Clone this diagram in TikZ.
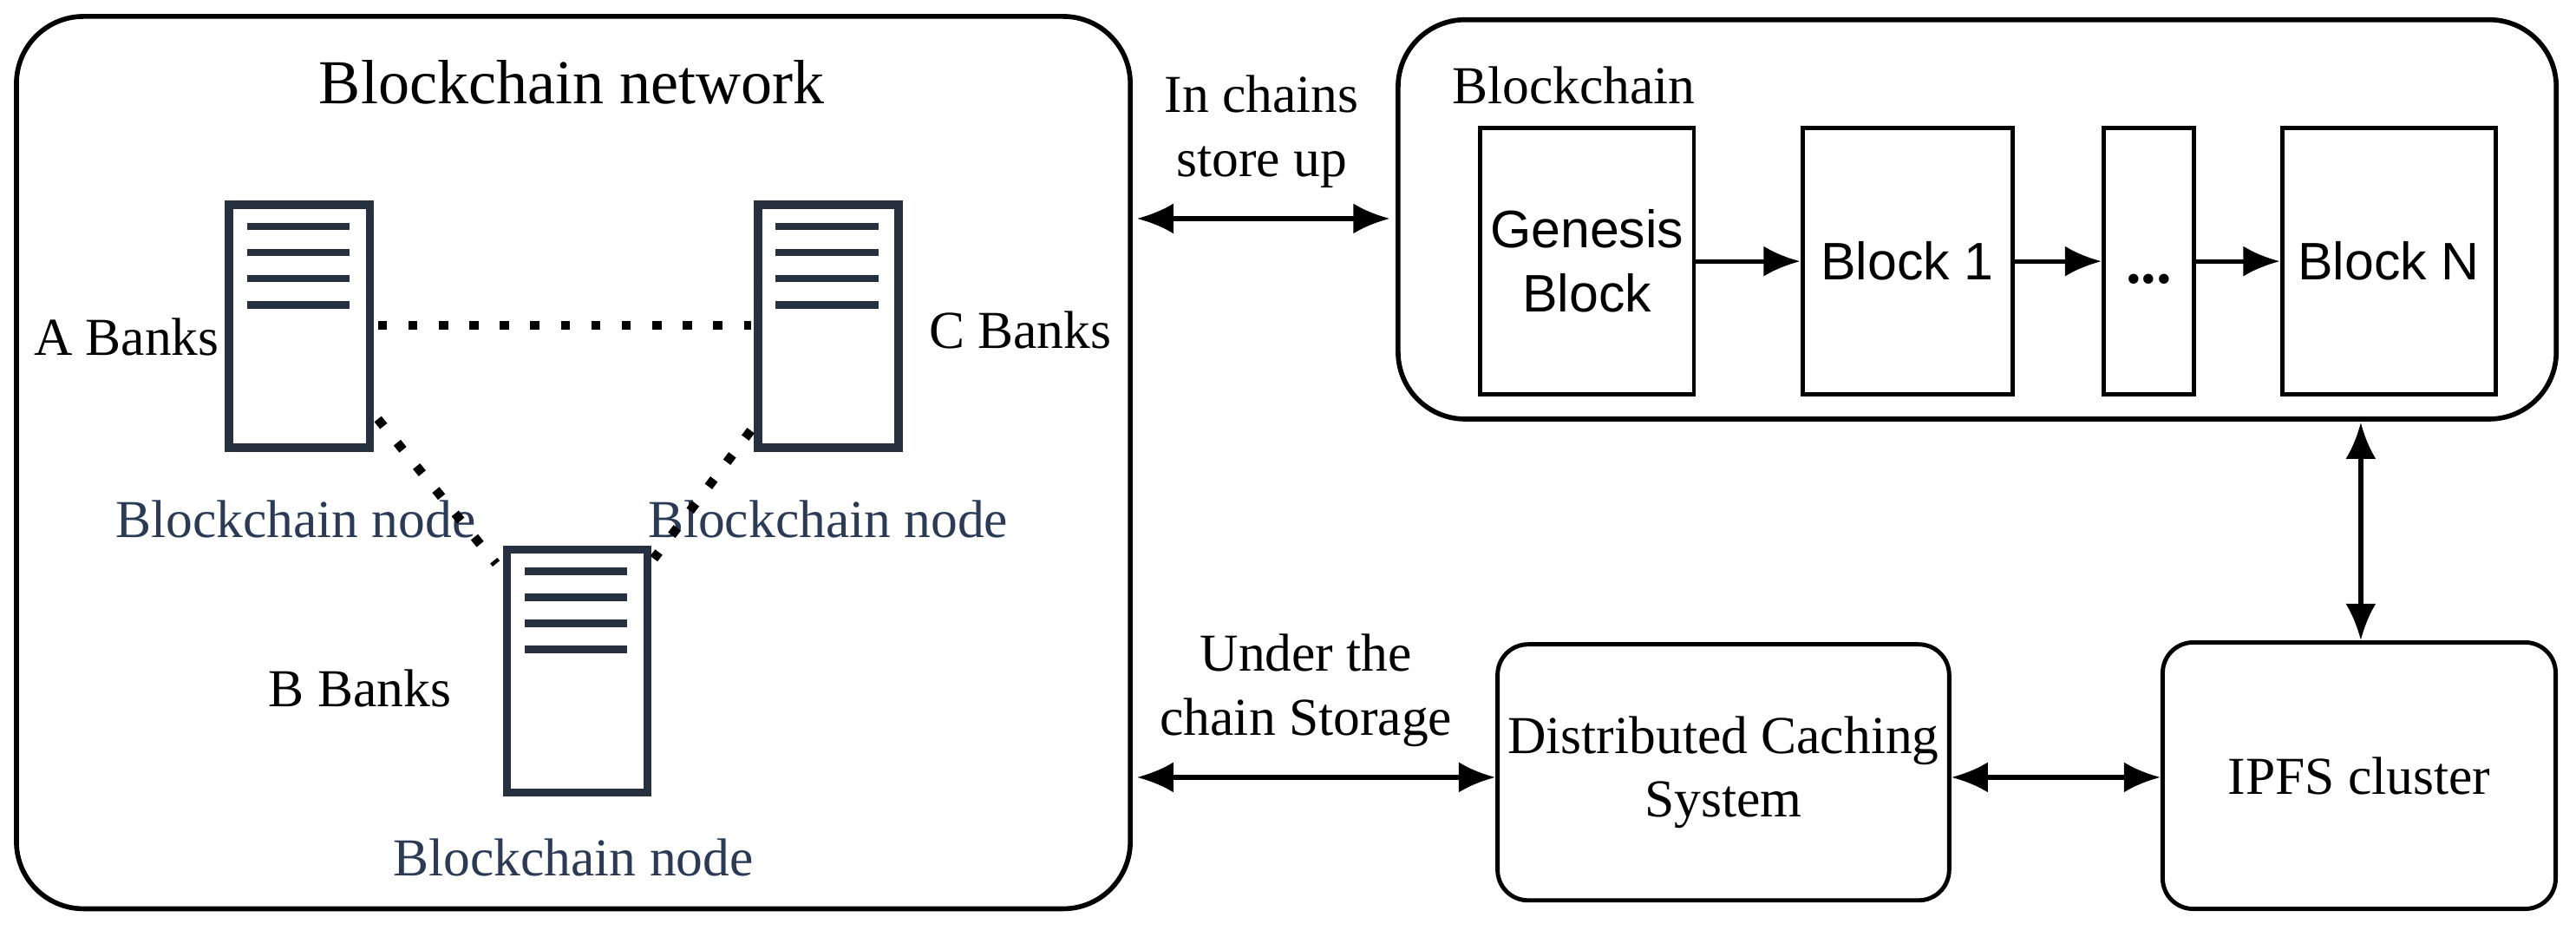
\documentclass[tikz,border=0pt]{standalone}
\usepackage{fontspec}
\setmainfont{Liberation Serif}
\setsansfont{Liberation Sans}
\usetikzlibrary{positioning,arrows.meta,calc}
\definecolor{srvcol}{HTML}{27303F}
\definecolor{nodecol}{HTML}{2B3A55}
\tikzset{
  panel/.style={draw, line width=1.6pt, rounded corners=22pt},
  box/.style={draw, line width=1.4pt, rounded corners=10pt, align=center},
  blk/.style={draw, line width=1.4pt, align=center, font=\sffamily\fontsize{17.3}{21}\selectfont},
  dbl/.style={{Latex[length=12pt,width=10pt]}-{Latex[length=12pt,width=10pt]}, line width=1.5pt},
  fwd/.style={-{Latex[length=12pt,width=10pt]}, line width=1.5pt},
  dots/.style={line width=3pt, dash pattern=on 3pt off 7pt},
  lbl/.style={font=\fontsize{17.5}{21}\selectfont, align=center},
  nlbl/.style={font=\fontsize{17.5}{21}\selectfont, text=nodecol}
}
\newcommand{\server}[3]{% name, x, y (top-left)
  \node[draw=srvcol, line width=2.7pt, minimum width=1.62cm, minimum height=2.8cm, anchor=north west, inner sep=0pt] (#1) at (#2,#3) {};
  \foreach \k in {0,1,2,3}
    \draw[srvcol, line width=2.5pt] ($(#1.north west)+(0.25cm,-0.3cm-\k*0.3cm)$) -- ($(#1.north east)+(-0.28cm,-0.3cm-\k*0.3cm)$);
}
\begin{document}
\begin{tikzpicture}[x=0.01894cm, y=-0.01894cm]
\useasboundingbox (0,0) rectangle (1568,570);
% left panel
\draw[panel] (10,10) rectangle (688,553);
\node[font=\fontsize{20.5}{24}\selectfont] (title) at (348,50) {Blockchain network};
\server{srvA}{137}{122}
\server{srvC}{459}{122}
\server{srvB}{306}{332}
\node[lbl] (labA) at (77,205) {A Banks};
\node[lbl] (labC) at (621,201) {C Banks};
\node[lbl] (labB) at (219,419) {B Banks};
\node[nlbl] (ndA) at (180,316) {Blockchain node};
\node[nlbl] (ndC) at (504,316) {Blockchain node};
\node[nlbl] (ndB) at (349,522) {Blockchain node};
\draw[dots] (230,198) -- (457,198);
\draw[dots] (230,255) -- (302,343);
\draw[dots] (457,262) -- (398,340);
% blockchain panel
\draw[panel] (851,12) rectangle (1556,255);
\node[lbl] (bcl) at (958,52) {Blockchain};
\node[blk, minimum width=2.42cm, minimum height=3.07cm] (gen) at (966,159) {Genesis\\Block};
\node[blk, minimum width=2.42cm, minimum height=3.07cm] (b1) at (1161,159) {Block 1};
\node[blk, minimum width=1.04cm, minimum height=3.07cm] (dt) at (1308,159) {};
\node[font=\fontsize{20}{20}\selectfont\bfseries] at (1308,170) {...};
\node[blk, minimum width=2.46cm, minimum height=3.07cm] (bN) at (1454,159) {Block N};
\draw[fwd] (gen) -- (b1);
\draw[fwd] (b1) -- (dt);
\draw[fwd] (dt) -- (bN);
% lower boxes
\node[box, minimum width=5.15cm, minimum height=2.95cm, font=\fontsize{17.5}{21}\selectfont] (dcs) at (1049,470) {Distributed Caching\\System};
\node[box, minimum width=4.53cm, minimum height=3.07cm, font=\fontsize{17.5}{21}\selectfont] (ipfs) at (1436,472) {IPFS cluster};
\coordinate (pL1) at (692,133);
\coordinate (pR1) at (846,133);
\coordinate (pL2) at (692,473);
\draw[dbl] (pL1) -- (pR1);
\node[lbl] at (768,80) {In chains\\store up};
\draw[dbl] (pL2) -- (dcs.west |- pL2);
\node[lbl] at (795,420) {Under the\\chain Storage};
\draw[dbl] (dcs.east |- 0,473) -- (ipfs.west |- 0,473);
\draw[dbl] (1437,257) -- (ipfs.north -| 1437,0);
\end{tikzpicture}
\end{document}
